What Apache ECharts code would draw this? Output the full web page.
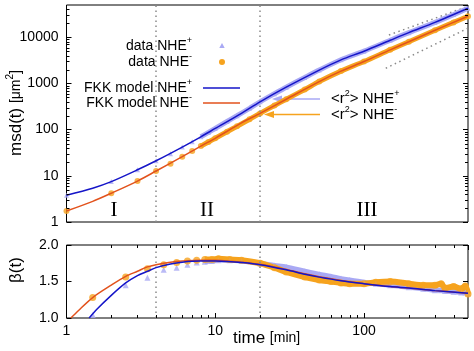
<!DOCTYPE html>
<html>
<head>
<meta charset="utf-8">
<script src="https://cdn.jsdelivr.net/npm/echarts@6/dist/echarts.min.js"></script>
<style>
  html, body { margin: 0; background: #fff; }
  #chart { width: 474px; height: 351px; }
</style>
</head>
<body>
<div id="chart"></div>
<script>
// time points of the measured msd (min)
const dataT = [1, 2, 3, 4, 5, 6, 7, 8, 9, 10, 12, 14, 17, 20, 25, 30, 40, 50, 70, 100, 150, 200, 300, 400, 500];
const msdPlus = [3.8, 7.5, 13.5, 21.2, 30, 42, 55, 70, 87, 106, 150, 200, 290, 400, 600, 830, 1350, 1950, 3250, 5000, 8600, 12600, 21000, 31000, 42500];
const msdMinus = [1.73, 4.2, 7.7, 12.7, 18.2, 26, 34.5, 44, 54, 65, 90, 118, 167, 225, 333, 455, 740, 1100, 1850, 2990, 5350, 8000, 14200, 21000, 28500];

// FKK model curves for msd
const modelT = [1, 1.5, 2, 3, 4, 6, 8, 10, 15, 20, 30, 50, 70, 100, 150, 200, 300, 500];
const modelMsdPlus = [3.8, 5.4, 7.5, 13.5, 21.2, 42, 70, 106, 225, 400, 830, 1950, 3250, 5000, 8600, 12600, 21000, 42500];
const modelMsdMinus = [1.73, 2.8, 4.2, 7.7, 12.7, 26, 44, 65, 140, 225, 455, 1100, 1850, 2990, 5350, 8000, 14200, 28500];

// dotted guide lines in the msd panel
const guideUpperT = [147, 495];
const guideUpper = [11200, 46500];
const guideLowerT = [140, 495];
const guideLower = [2130, 15500];

// beta(t) from data
const betaT = [1.5, 2.5, 3.5, 4.5, 5.5, 6.5, 7.5, 8.5, 9.5, 10.5, 12.5, 15, 20, 25, 30, 40, 50, 60, 70, 80, 100, 120, 150, 200, 250, 300, 330, 350, 400, 450, 480, 500];
const betaPlus = [1.04, 1.45, 1.55, 1.66, 1.69, 1.73, 1.76, 1.77, 1.78, 1.79, 1.79, 1.78, 1.75, 1.72, 1.70, 1.64, 1.60, 1.57, 1.54, 1.52, 1.49, 1.47, 1.45, 1.42, 1.40, 1.38, 1.38, 1.37, 1.36, 1.35, 1.35, 1.34];
const betaMinus = [1.28, 1.56, 1.675, 1.73, 1.76, 1.78, 1.79, 1.80, 1.80, 1.81, 1.80, 1.79, 1.75, 1.69, 1.63, 1.56, 1.52, 1.50, 1.48, 1.47, 1.47, 1.49, 1.50, 1.47, 1.45, 1.45, 1.47, 1.41, 1.43, 1.40, 1.44, 1.33];

// beta(t) of the model
const betaModelPlusT = [1.42, 1.6, 2, 2.5, 3, 3.5, 4, 5, 6, 8, 10, 12, 15, 20, 30, 40, 50, 70, 100, 150, 200, 300, 500];
const betaModelPlus = [1.0, 1.12, 1.31, 1.48, 1.58, 1.64, 1.69, 1.74, 1.765, 1.78, 1.78, 1.775, 1.76, 1.73, 1.66, 1.60, 1.56, 1.51, 1.47, 1.43, 1.41, 1.375, 1.34];
const betaModelMinusT = [1.07, 1.2, 1.5, 2, 2.5, 3, 3.5, 4, 5, 6, 8, 10, 12, 15, 20, 30, 40, 50, 70, 100, 150, 200, 300, 500];
const betaModelMinus = [1.0, 1.1, 1.28, 1.45, 1.57, 1.64, 1.70, 1.73, 1.765, 1.78, 1.79, 1.79, 1.78, 1.765, 1.735, 1.665, 1.605, 1.565, 1.515, 1.47, 1.43, 1.41, 1.375, 1.34];

// regime borders (min)
const regimeBorders = [4, 20];

const FONT = 'Liberation Sans, Arial, sans-serif';
const BLUE = '#1515c8';
const RED = '#e2521c';
const LAV = '#a9a9f4';
const GOLD = '#f6a31e';

const pairs = (xs, ys) => xs.map((x, i) => [x, ys[i]]);
const band = (xs, ys, from) => pairs(xs, ys).filter(p => p[0] >= from);

// minor tick values for log axes (2..9 in each decade)
function logMinor(d0, d1, max) {
  const out = [];
  for (let d = d0; d <= d1; d++) {
    for (let m = 2; m <= 9; m++) {
      const v = m * Math.pow(10, d);
      if (v < max) out.push(v);
    }
  }
  return out;
}

const X_RANGE = [1, 500];
const MSD_RANGE = [1, 50000];
const BETA_RANGE = [1, 2];

const xMinor = logMinor(0, 2, 500);
const yMinor = logMinor(0, 4, 50000);

const tickStyle = { show: true, inside: true, length: 5, lineStyle: { color: '#000', width: 1 } };
const labelStyle = { color: '#000', fontSize: 14, fontFamily: FONT };

const dotted = { color: '#8a8a8a', width: 1.5, type: [1.5, 3.5] };

const chart = echarts.init(document.getElementById('chart'), null, { renderer: 'canvas' });

const sup = { fontSize: 9, fontFamily: FONT, color: '#000', verticalAlign: 'top', lineHeight: 10 };
const main14 = { fontSize: 14, fontFamily: FONT, color: '#000', lineHeight: 20 };
const main15 = { fontSize: 15, fontFamily: FONT, color: '#000', lineHeight: 20 };

const noAxisLine = { axisLine: { show: false }, splitLine: { show: false } };

chart.setOption({
  animation: false,
  backgroundColor: '#fff',
  grid: [
    { left: 66.5, right: 6, top: 5, height: 217, show: true, borderColor: '#000', borderWidth: 1 },
    { left: 66.5, right: 6, top: 245, height: 73, show: true, borderColor: '#000', borderWidth: 1 }
  ],
  xAxis: [
    Object.assign({ type: 'log', logBase: 10, gridIndex: 0, min: X_RANGE[0], max: X_RANGE[1],
      axisTick: { show: false }, axisLabel: { show: false } }, noAxisLine),
    Object.assign({ type: 'log', logBase: 10, gridIndex: 1, min: X_RANGE[0], max: X_RANGE[1],
      axisTick: tickStyle,
      axisLabel: Object.assign({ margin: 6, showMaxLabel: false, formatter: v => String(v) }, labelStyle) }, noAxisLine),
    Object.assign({ type: 'log', logBase: 10, gridIndex: 1, position: 'top', min: X_RANGE[0], max: X_RANGE[1],
      axisTick: tickStyle, axisLabel: { show: false } }, noAxisLine)
  ],
  yAxis: [
    Object.assign({ type: 'log', logBase: 10, gridIndex: 0, min: MSD_RANGE[0], max: MSD_RANGE[1],
      axisTick: tickStyle,
      axisLabel: Object.assign({ margin: 8, showMaxLabel: false, formatter: v => String(v) }, labelStyle) }, noAxisLine),
    Object.assign({ type: 'log', logBase: 10, gridIndex: 0, position: 'right', min: MSD_RANGE[0], max: MSD_RANGE[1],
      axisTick: tickStyle, axisLabel: { show: false } }, noAxisLine),
    Object.assign({ type: 'value', gridIndex: 1, min: BETA_RANGE[0], max: BETA_RANGE[1], interval: 0.5,
      axisTick: tickStyle,
      axisLabel: Object.assign({ margin: 8, formatter: v => v.toFixed(1) }, labelStyle) }, noAxisLine),
    Object.assign({ type: 'value', gridIndex: 1, position: 'right', min: BETA_RANGE[0], max: BETA_RANGE[1], interval: 0.5,
      axisTick: tickStyle, axisLabel: { show: false } }, noAxisLine)
  ],
  series: [
    // ---- msd panel ----
    {
      name: 'guideUpper', type: 'line', xAxisIndex: 0, yAxisIndex: 0, z: 2,
      data: pairs(guideUpperT, guideUpper), showSymbol: false, lineStyle: dotted,
      markLine: {
        silent: true, symbol: ['none', 'none'], label: { show: false },
        lineStyle: dotted, data: regimeBorders.map(v => ({ xAxis: v }))
      }
    },
    {
      name: 'guideLower', type: 'line', xAxisIndex: 0, yAxisIndex: 0, z: 2,
      data: pairs(guideLowerT, guideLower), showSymbol: false, lineStyle: dotted
    },
    {
      name: 'bandPlus', type: 'line', xAxisIndex: 0, yAxisIndex: 0, z: 3,
      data: band(dataT, msdPlus, 8), showSymbol: false, smooth: 0.3,
      lineStyle: { color: LAV, width: 5 }
    },
    {
      name: 'bandMinus', type: 'line', xAxisIndex: 0, yAxisIndex: 0, z: 3,
      data: band(dataT, msdMinus, 8), showSymbol: false, smooth: 0.3,
      lineStyle: { color: GOLD, width: 5 }
    },
    {
      name: 'data NHE+', type: 'scatter', xAxisIndex: 0, yAxisIndex: 0, z: 4,
      data: pairs(dataT, msdPlus), symbol: 'triangle', symbolSize: 5,
      itemStyle: { color: LAV }
    },
    {
      name: 'data NHE-', type: 'scatter', xAxisIndex: 0, yAxisIndex: 0, z: 4,
      data: pairs(dataT, msdMinus), symbol: 'circle', symbolSize: 6,
      itemStyle: { color: GOLD }
    },
    {
      name: 'FKK model NHE+', type: 'line', xAxisIndex: 0, yAxisIndex: 0, z: 5,
      data: pairs(modelT, modelMsdPlus), showSymbol: false, smooth: 0.3,
      lineStyle: { color: BLUE, width: 1.5 }
    },
    {
      name: 'FKK model NHE-', type: 'line', xAxisIndex: 0, yAxisIndex: 0, z: 5,
      data: pairs(modelT, modelMsdMinus), showSymbol: false, smooth: 0.3,
      lineStyle: { color: RED, width: 1.5 }
    },

    // ---- beta panel ----
    {
      name: 'betaBandPlus', type: 'line', xAxisIndex: 1, yAxisIndex: 2, z: 3,
      data: band(betaT, betaPlus, 8), showSymbol: false, smooth: 0.3,
      lineStyle: { color: LAV, width: 5 },
      markLine: {
        silent: true, symbol: ['none', 'none'], label: { show: false },
        lineStyle: dotted, data: regimeBorders.map(v => ({ xAxis: v }))
      }
    },
    {
      name: 'betaBandMinus', type: 'line', xAxisIndex: 1, yAxisIndex: 2, z: 3,
      data: band(betaT, betaMinus, 8), showSymbol: false, smooth: 0.3,
      lineStyle: { color: GOLD, width: 6 }
    },
    {
      name: 'beta NHE+', type: 'scatter', xAxisIndex: 1, yAxisIndex: 2, z: 4,
      data: pairs(betaT, betaPlus), symbol: 'triangle', symbolSize: 6,
      itemStyle: { color: LAV }
    },
    {
      name: 'beta NHE-', type: 'scatter', xAxisIndex: 1, yAxisIndex: 2, z: 4,
      data: pairs(betaT, betaMinus), symbol: 'circle', symbolSize: 7,
      itemStyle: { color: GOLD }
    },
    {
      name: 'beta model NHE-', type: 'line', xAxisIndex: 1, yAxisIndex: 2, z: 5,
      data: pairs(betaModelMinusT, betaModelMinus), showSymbol: false, smooth: 0.3,
      lineStyle: { color: RED, width: 1.5 }
    },
    {
      name: 'beta model NHE+', type: 'line', xAxisIndex: 1, yAxisIndex: 2, z: 6,
      data: pairs(betaModelPlusT, betaModelPlus), showSymbol: false, smooth: 0.3,
      lineStyle: { color: BLUE, width: 1.5 }
    }
  ]
});

// minor ticks: positions come from the chart's own log scales
const MINOR = 3;
const tick = (p, dx, dy) => ({
  type: 'line', silent: true, z: 50,
  shape: { x1: p[0], y1: p[1], x2: p[0] + dx, y2: p[1] + dy },
  style: { stroke: '#000', lineWidth: 1 }
});
const minorTicks = [];
yMinor.forEach(v => {
  const l = chart.convertToPixel({ seriesIndex: 6 }, [X_RANGE[0], v]);
  const r = chart.convertToPixel({ seriesIndex: 6 }, [X_RANGE[1], v]);
  const y = Math.round(l[1]) + 0.5;
  minorTicks.push(tick([l[0], y], MINOR, 0), tick([r[0], y], -MINOR, 0));
});
xMinor.forEach(v => {
  const b = chart.convertToPixel({ seriesIndex: 13 }, [v, BETA_RANGE[0]]);
  const t = chart.convertToPixel({ seriesIndex: 13 }, [v, BETA_RANGE[1]]);
  const x = Math.round(b[0]) + 0.5;
  minorTicks.push(tick([x, b[1]], 0, -MINOR), tick([x, t[1]], 0, MINOR));
});

chart.setOption({
  graphic: [
    // axis titles
    {
      type: 'text', x: 16, y: 113, rotation: Math.PI / 2,
      style: {
        text: '{a|msd(t) }{b|[μm}{s|2}{b|]}', align: 'center', verticalAlign: 'middle',
        rich: {
          a: { fontSize: 17, fontFamily: FONT, color: '#000', lineHeight: 22 },
          b: { fontSize: 14, fontFamily: FONT, color: '#000', lineHeight: 22 },
          s: { fontSize: 10, fontFamily: FONT, color: '#000', verticalAlign: 'top', lineHeight: 12 }
        }
      }
    },
    {
      type: 'text', x: 16, y: 270, rotation: Math.PI / 2,
      style: { text: 'β(t)', align: 'center', verticalAlign: 'middle', font: '17px ' + FONT, fill: '#000' }
    },
    {
      type: 'text', x: 233, y: 338,
      style: {
        text: '{a|time }{b|[min]}', align: 'left', verticalAlign: 'middle',
        rich: {
          a: { fontSize: 17, fontFamily: FONT, color: '#000' },
          b: { fontSize: 14, fontFamily: FONT, color: '#000' }
        }
      }
    },
    // regime labels
    { type: 'text', x: 114, y: 210, style: { text: 'I', align: 'center', verticalAlign: 'middle', font: '21px Liberation Serif, serif', fill: '#000' } },
    { type: 'text', x: 207, y: 210, style: { text: 'II', align: 'center', verticalAlign: 'middle', font: '21px Liberation Serif, serif', fill: '#000' } },
    { type: 'text', x: 367, y: 210, style: { text: 'III', align: 'center', verticalAlign: 'middle', font: '21px Liberation Serif, serif', fill: '#000' } },
    // key
    { type: 'text', x: 192, y: 46, style: { text: '{m|data NHE}{s|+}', align: 'right', verticalAlign: 'middle', rich: { m: main14, s: sup } } },
    { type: 'text', x: 192, y: 62, style: { text: '{m|data NHE}{s|-}', align: 'right', verticalAlign: 'middle', rich: { m: main14, s: sup } } },
    { type: 'text', x: 192, y: 88, style: { text: '{m|FKK model NHE}{s|+}', align: 'right', verticalAlign: 'middle', rich: { m: main14, s: sup } } },
    { type: 'text', x: 192, y: 103, style: { text: '{m|FKK model NHE}{s|-}', align: 'right', verticalAlign: 'middle', rich: { m: main14, s: sup } } },
    { type: 'polygon', shape: { points: [[222, 43], [219.3, 48], [224.7, 48]] }, style: { fill: LAV } },
    { type: 'circle', shape: { cx: 222, cy: 62, r: 3 }, style: { fill: GOLD } },
    { type: 'line', shape: { x1: 203, y1: 88, x2: 240, y2: 88 }, style: { stroke: BLUE, lineWidth: 1.5 } },
    { type: 'line', shape: { x1: 203, y1: 103, x2: 240, y2: 103 }, style: { stroke: RED, lineWidth: 1.5 } },
    // <r^2> annotations with arrows
    { type: 'text', x: 331, y: 99, style: { text: '{m|<r}{s|2}{m|> NHE}{s|+}', align: 'left', verticalAlign: 'middle', rich: { m: main15, s: sup } } },
    { type: 'text', x: 331, y: 115, style: { text: '{m|<r}{s|2}{m|> NHE}{s|-}', align: 'left', verticalAlign: 'middle', rich: { m: main15, s: sup } } },
    { type: 'line', shape: { x1: 320, y1: 99, x2: 276, y2: 99 }, style: { stroke: LAV, lineWidth: 1.5 } },
    { type: 'polygon', shape: { points: [[272, 99], [282, 95.5], [282, 102.5]] }, style: { fill: LAV } },
    { type: 'line', shape: { x1: 320, y1: 114.5, x2: 268, y2: 114.5 }, style: { stroke: GOLD, lineWidth: 1.5 } },
    { type: 'polygon', shape: { points: [[264, 114.5], [274, 111], [274, 118]] }, style: { fill: GOLD } }
  ].concat(minorTicks)
});
</script>
</body>
</html>
